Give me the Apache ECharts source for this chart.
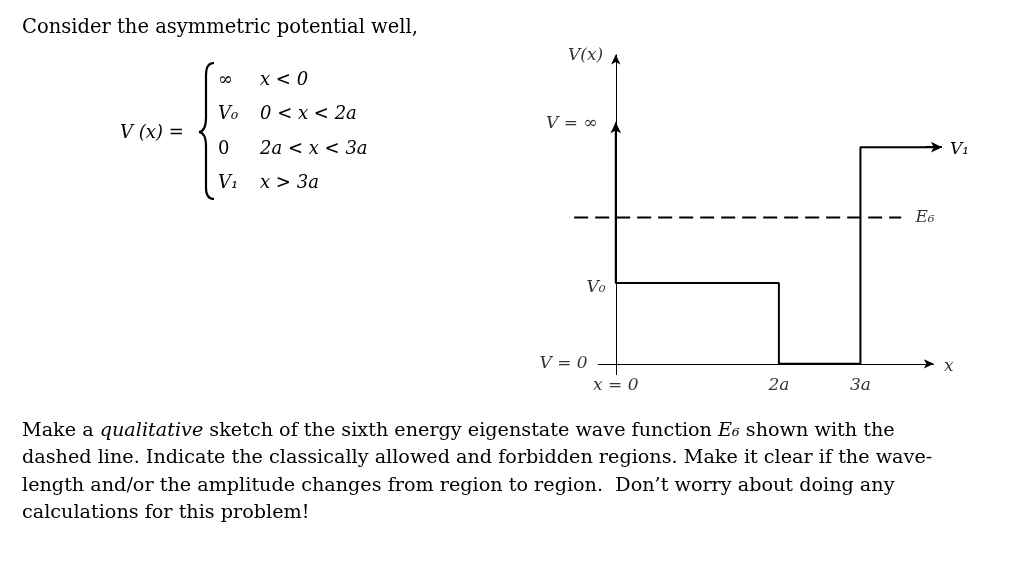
<!DOCTYPE html>
<html>
<head>
<meta charset="utf-8">
<script src="https://cdn.jsdelivr.net/npm/echarts@6/dist/echarts.min.js"></script>
<style>
  html, body { margin: 0; padding: 0; background: #fff; }
  #main { width: 1024px; height: 561px; }
</style>
</head>
<body>
<div id="main"></div>
<script>
// potential in units of a (x) and arbitrary energy units (y)
var wellX = [0, 0, 2, 2, 3, 3, 3.96];
var wellV = [3.0, 1.01, 1.01, 0, 0, 2.71, 2.71];
var energyE6 = 1.83;
var dashFrom = -0.51, dashTo = 3.5;
var xTicks = [[0, 'x = 0'], [2, '2a'], [3, '3a']];

var serif = '"DejaVu Serif", serif';
var mathFont = '"DejaVu Serif", serif';

var problemLines = [
    'Make a {i|qualitative} sketch of the sixth energy eigenstate wave function {i|E\u2086} shown with the',
    'dashed line. Indicate the classically allowed and forbidden regions. Make it clear if the wave-',
    'length and/or the amplitude changes from region to region.  Don\u2019t worry about doing any',
    'calculations for this problem!'
];
var caseRows = [
    ['\u221e', 'x < 0'],
    ['V\u2080', '0 < x < 2a'],
    ['0', '2a < x < 3a'],
    ['V\u2081', 'x > 3a']
];

var myChart = echarts.init(document.getElementById('main'));

var graphics = [];
function txt(x, y, s, opt) {
    opt = opt || {};
    graphics.push({
        type: 'text', x: x, y: y,
        style: {
            text: s, fill: '#000',
            font: (opt.style || 'normal') + ' ' + (opt.size || 19) + 'px ' + (opt.font || serif),
            textAlign: opt.align || 'left', textVerticalAlign: 'middle',
            rich: {i: {fontStyle: 'italic', fontSize: opt.size || 19, fontFamily: serif}}
        }
    });
}
txt(22, 28, 'Consider the asymmetric potential well,', {size: 19.5});
problemLines.forEach(function (l, i) { txt(22, 431 + i * 27.5, l, {size: 19.2}); });
// piecewise definition
txt(120, 133, 'V (x) =', {size: 18, style: 'italic'});
caseRows.forEach(function (r, i) {
    var y = 80 + i * 34.5;
    txt(218, y, r[0], {size: 18, style: r[0] === '0' || r[0] === '\u221e' ? 'normal' : 'italic'});
    txt(260, y, r[1], {size: 18, style: 'italic'});
});
txt(950, 150, 'V\u2081', {size: 17, style: 'italic'});
// curly brace
[
    [214, 63, 206, 63, 206, 75],
    [206, 118, 206, 131, 199, 132],
    [199, 132, 206, 133, 206, 146],
    [206, 188, 206, 199, 214, 199]
].forEach(function (b) {
    graphics.push({
        type: 'bezierCurve',
        shape: {x1: b[0], y1: b[1], cpx1: b[2], cpy1: b[3], x2: b[4], y2: b[5]},
        style: {stroke: '#000', fill: null, lineWidth: 2.2}
    });
});
graphics.push({type: 'line', shape: {x1: 206, y1: 75, x2: 206, y2: 118}, style: {stroke: '#000', lineWidth: 2.2}});
graphics.push({type: 'line', shape: {x1: 206, y1: 146, x2: 206, y2: 188}, style: {stroke: '#000', lineWidth: 2.2}});

myChart.setOption({
    backgroundColor: '#fff',
    animation: false,
    grid: {left: 575, right: 82, top: 52, bottom: 186},
    xAxis: {type: 'value', min: -0.5, max: 4.0, show: false},
    yAxis: {type: 'value', min: -0.14, max: 3.9, show: false},
    graphic: graphics,
    series: [
        {
            type: 'line', data: [], silent: true,
            markLine: {
                silent: true, symbol: ['none', 'arrow'], symbolSize: [7, 10],
                label: {show: false},
                lineStyle: {color: '#000', width: 1, type: 'solid'},
                data: [
                    [{coord: [0, -0.14]}, {coord: [0, 3.87]}],
                    [{coord: [-0.22, 0]}, {coord: [3.9, 0]}]
                ]
            }
        },
        {
            type: 'line', silent: true, showSymbol: false,
            lineStyle: {color: '#000', width: 2},
            data: wellX.map(function (x, i) { return [x, wellV[i]]; }),
            markLine: {
                silent: true, symbol: ['none', 'arrow'], symbolSize: [8, 11],
                label: {show: false},
                lineStyle: {color: '#000', width: 2, type: 'solid'},
                data: [
                    [{coord: [0, 2.8]}, {coord: [0, 3.02]}],
                    [{coord: [3.8, 2.71]}, {coord: [4.0, 2.71]}]
                ]
            }
        },
        {
            type: 'line', silent: true, showSymbol: false,
            lineStyle: {color: '#000', width: 2, type: [14, 7]},
            data: [[dashFrom, energyE6], [dashTo, energyE6]]
        },
        {
            type: 'scatter', silent: true, symbolSize: 0,
            data: xTicks.map(function (t) { return {value: [t[0], -0.14], name: t[1]}; }),
            label: {
                show: true, position: 'bottom', distance: 2, color: '#000',
                fontFamily: mathFont, fontStyle: 'italic', fontSize: 17,
                formatter: function (p) { return p.name; }
            }
        },
        {
            type: 'scatter', silent: true, symbolSize: 0,
            data: [
                {value: [-0.13, 3.86], name: 'V(x)', pos: 'left'},
                {value: [-0.2, 3.0], name: 'V = \u221e', pos: 'left'},
                {value: [-0.1, 0.95], name: 'V\u2080', pos: 'left'},
                {value: [-0.32, 0], name: 'V = 0', pos: 'left'},
                {value: [3.65, 1.83], name: 'E\u2086', pos: 'right'},
                {value: [4.0, -0.04], name: 'x', pos: 'right'}
            ].map(function (d) {
                return {value: d.value, name: d.name, label: {position: d.pos}};
            }),
            label: {
                show: true, color: '#000', distance: 2,
                fontFamily: mathFont, fontStyle: 'italic', fontSize: 17,
                formatter: function (p) { return p.name; }
            }
        }
    ]
});
</script>
</body>
</html>
